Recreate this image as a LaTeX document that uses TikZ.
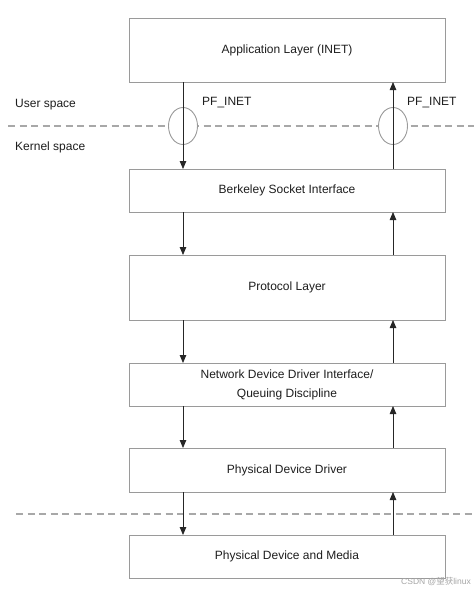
\documentclass[tikz,border=0pt]{standalone}
\usepackage{fontspec}
\setmainfont{Liberation Sans}
\newfontfamily\cjkfont{Noto Sans CJK SC}
\usetikzlibrary{shapes.geometric,arrows.meta}
\definecolor{boxline}{HTML}{9A9A9A}
\definecolor{dashgray}{HTML}{A8A8A8}
\definecolor{txt}{HTML}{1E1E1E}
\tikzset{
  layerbox/.style={draw=boxline, line width=0.9pt, fill=white, minimum width=316pt, inner sep=0pt, outer sep=0pt, text=txt, font=\fontsize{12}{19}\selectfont, align=center},
  flow/.style={draw=black!85, line width=0.8pt, -{Triangle[length=8pt,width=6.5pt]}},
  sepline/.style={draw=dashgray, line width=1.6pt, dash pattern=on 7pt off 4.5pt},
  ring/.style={ellipse, draw=boxline, line width=0.9pt, fill=white, minimum width=29pt, minimum height=37pt, inner sep=0pt},
  lbl/.style={text=txt, font=\fontsize{12}{14}\selectfont, inner sep=0pt},
}
\begin{document}
\begin{tikzpicture}[x=1pt,y=-1pt]
\useasboundingbox (0,0) rectangle (474,594);
\fill[white] (0,0) rectangle (474,594);
% columns
\coordinate (xl) at (183,0);
\coordinate (xr) at (393,0);
% separators
\coordinate (s1a) at (8,126);
\coordinate (s1b) at (474,126);
\coordinate (s2a) at (16,514);
\coordinate (s2b) at (474,514);
\draw[sepline] (s1a) -- (s1b);
\draw[sepline] (s2a) -- (s2b);
% boxes
\node[layerbox, minimum height=64pt] (app) at (287,50) {Application Layer (INET)};
\node[layerbox, minimum height=43pt] (bsi) at (287,190.5) {Berkeley Socket Interface};
\node[layerbox, minimum height=65pt] (proto) at (287,287.5) {Protocol Layer};
\node[layerbox, minimum height=43pt] (ndi) at (287,384.5) {Network Device Driver Interface/\\Queuing Discipline};
\node[layerbox, minimum height=44pt] (pdd) at (287,470) {Physical Device Driver};
\node[layerbox, minimum height=43pt] (pdm) at (287,556.5) {Physical Device and Media};
% rings
\node[ring] (rl) at (183,126) {};
\node[ring] (rr) at (393,126) {};
% arrows down
\draw[flow] (app.south -| xl) -- (bsi.north -| xl);
\draw[flow] (bsi.south -| xl) -- (proto.north -| xl);
\draw[flow] (proto.south -| xl) -- (ndi.north -| xl);
\draw[flow] (ndi.south -| xl) -- (pdd.north -| xl);
\draw[flow] (pdd.south -| xl) -- (pdm.north -| xl);
% arrows up
\draw[flow] (bsi.north -| xr) -- (app.south -| xr);
\draw[flow] (proto.north -| xr) -- (bsi.south -| xr);
\draw[flow] (ndi.north -| xr) -- (proto.south -| xr);
\draw[flow] (pdd.north -| xr) -- (ndi.south -| xr);
\draw[flow] (pdm.north -| xr) -- (pdd.south -| xr);
% labels
\node[lbl, anchor=west] (pfl) at (202,103) {PF\_INET};
\node[lbl, anchor=west] (pfr) at (407,103) {PF\_INET};
\node[lbl, anchor=west] (us) at (15,105) {User space};
\node[lbl, anchor=west] (ks) at (15,147) {Kernel space};
\node[anchor=east, inner sep=0pt, text=black!35, font=\fontsize{8.5}{10}\selectfont] (wm) at (471,582) {CSDN @{\cjkfont 望获}linux};
\end{tikzpicture}
\end{document}
